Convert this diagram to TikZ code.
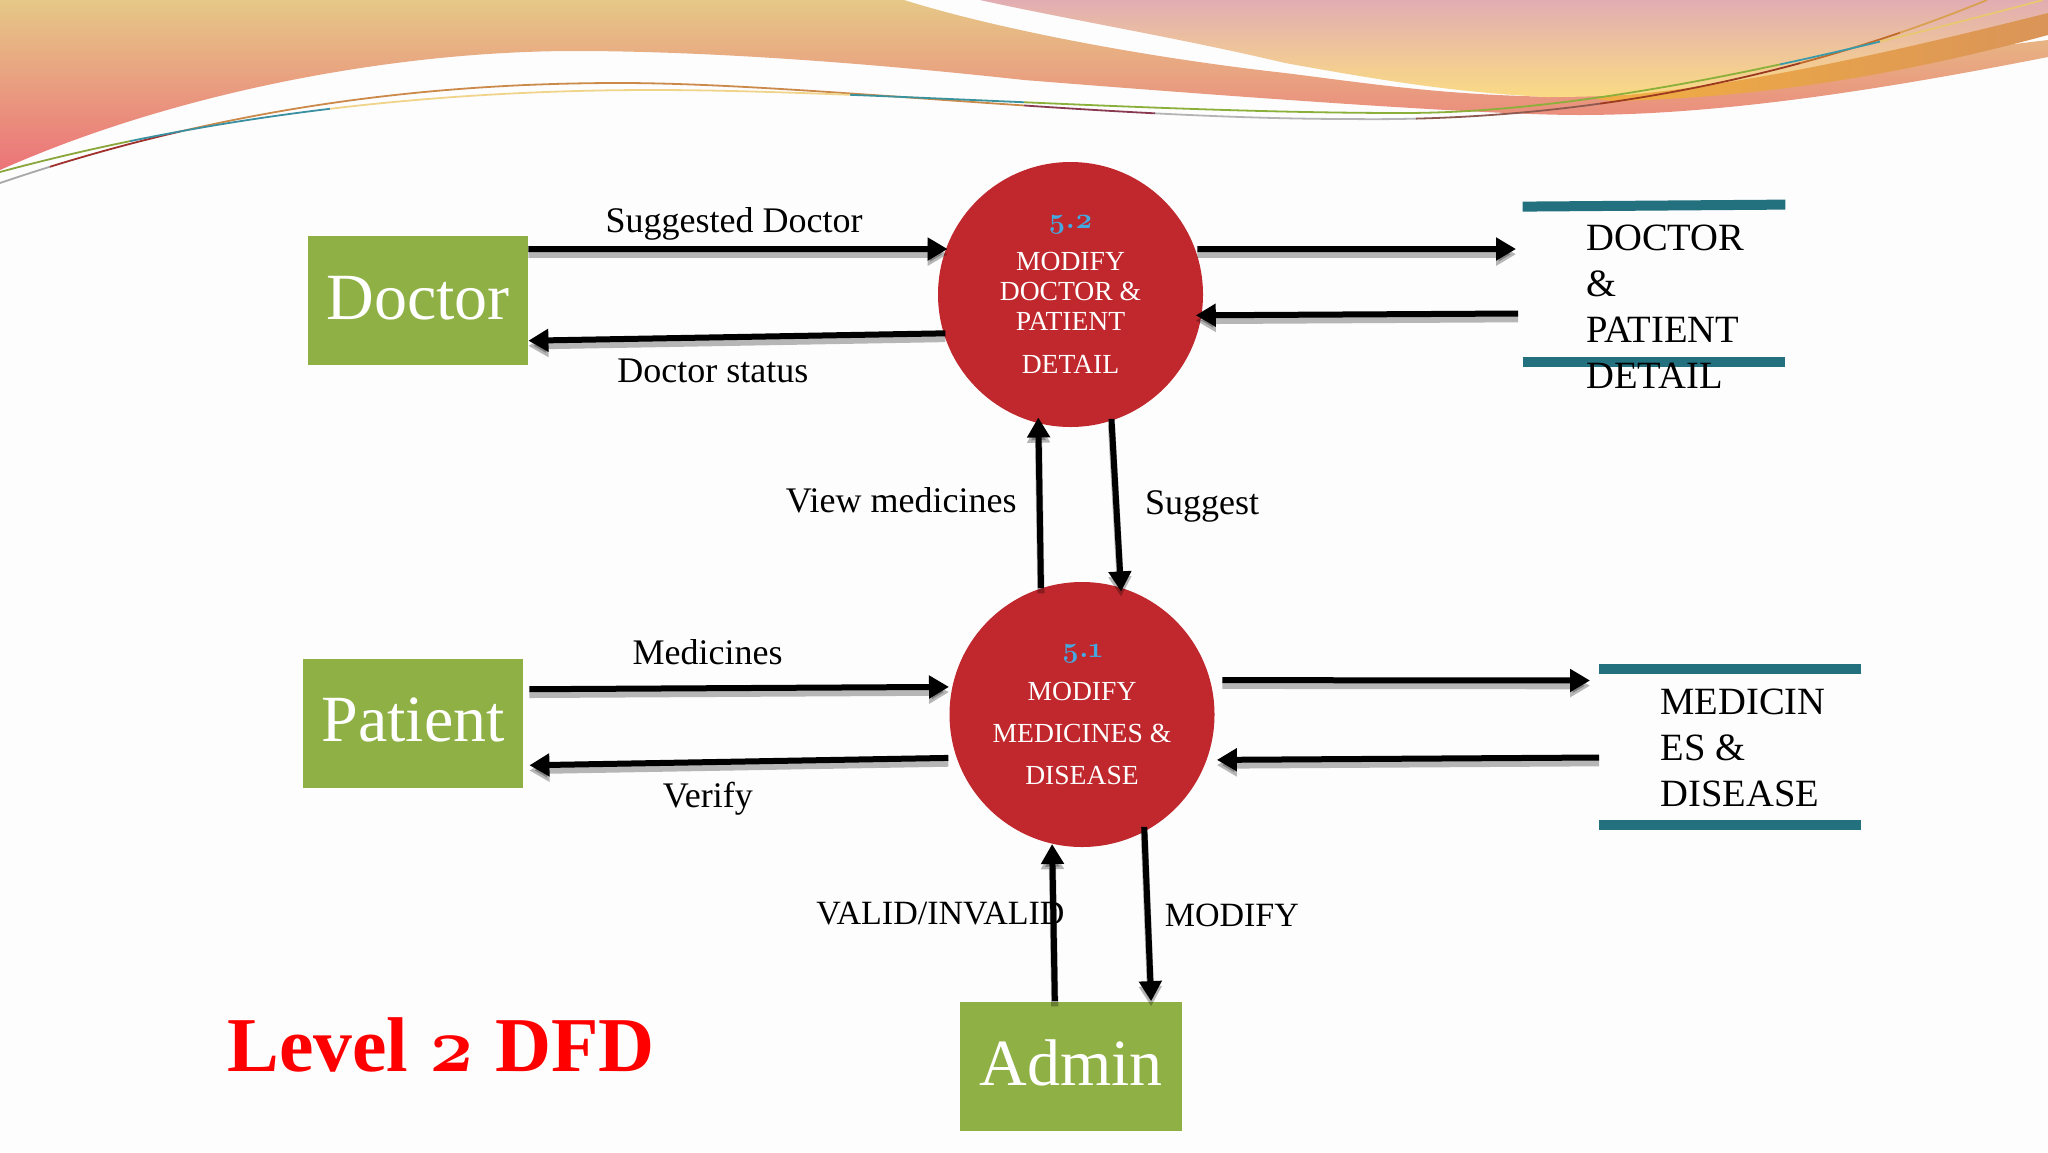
\documentclass[tikz,border=0pt]{standalone}
\usepackage{fontspec}
\setmainfont{Liberation Serif}
\newfontfamily\oldnum[Numbers=OldStyle]{Latin Modern Roman}
\usetikzlibrary{calc}
\usetikzlibrary{shapes,arrows.meta,positioning}
\definecolor{boxgreen}{HTML}{8FB044}
\definecolor{procred}{HTML}{C0282D}
\definecolor{storeteal}{HTML}{23707F}
\definecolor{numblue}{HTML}{45A8E0}
\definecolor{paper}{HTML}{FDFDFE}
\definecolor{bandtop}{HTML}{E6C887}
\definecolor{bandmid}{HTML}{E3A27E}
\definecolor{bandlow}{HTML}{EC7378}
\definecolor{skytop}{HTML}{E2ADB2}
\definecolor{skylow}{HTML}{FADB84}
\definecolor{wedgeleft}{HTML}{F2AE42}
\definecolor{wedgeright}{HTML}{DA9458}
\tikzstyle{entity} = [rectangle, fill=boxgreen, text=white, minimum width=110pt, minimum height=64.5pt,
    inner sep=0pt, text depth=3pt, font=\fontsize{33}{36}\selectfont]
\tikzstyle{process} = [circle, fill=procred, text=white, minimum size=132.5pt, inner sep=0pt,
    align=center, font=\fontsize{13.8}{15}\selectfont]
\tikzstyle{store} = [rectangle, minimum width=131pt, minimum height=78pt, inner sep=0pt]
\tikzstyle{storetext} = [anchor=west, align=left, inner sep=0pt, font=\fontsize{19.3}{23}\selectfont]
\tikzstyle{bar} = [draw=storeteal, line width=5pt]
\tikzstyle{line} = [draw, line width=3pt, -{Triangle[length=10pt,width=11pt]},
    preaction={draw=black, opacity=.28, line width=3.6pt, transform canvas={yshift=-2.6pt}}]
\tikzstyle{lab} = [inner sep=0pt, font=\fontsize{18}{20}\selectfont]
\tikzstyle{labcap} = [inner sep=0pt, font=\fontsize{17}{20}\selectfont]
\newcommand{\curveA}{(-20,189) -- (0,183) .. controls (200,115) and (400,83) .. (620,83) .. controls (800,83) and (1100,119) .. (1350,119) .. controls (1560,122) and (1780,85) .. (1987,0)}
\newcommand{\curveB}{(0,172) .. controls (200,118) and (420,90) .. (653,90) .. controls (850,90) and (1150,113) .. (1403,113) .. controls (1580,113) and (1800,65) .. (2043,0)}
\begin{document}
\begin{tikzpicture}[x=0.5pt,y=-0.5pt]
\useasboundingbox (0,0) rectangle (2048,1152);
\fill[paper] (0,0) rectangle (2048,1152);
%Banner:
\shade[top color=bandtop, middle color=bandmid, bottom color=bandlow] (0,0) -- (904,0) .. controls (1000,30) and (1150,58) .. (1285,73)
  .. controls (1380,85) and (1450,96) .. (1570,97) -- (2048,40) -- (2048,57) .. controls (1880,90) and (1720,115) .. (1579,115)
  .. controls (1500,115) and (1300,102) .. (1024,80) .. controls (860,62) and (700,51) .. (575,51) .. controls (400,51) and (180,90) .. (0,170) -- cycle;
\shade[top color=skytop, bottom color=skylow] (980,0) -- (2048,0) -- (2048,13) .. controls (1880,70) and (1720,97) .. (1546,97)
  .. controls (1450,92) and (1380,80) .. (1285,63) .. controls (1180,38) and (1060,18) .. (980,0) -- cycle;
\shade[left color=wedgeleft, right color=wedgeright] (1590,98) .. controls (1740,88) and (1900,50) .. (2048,13) -- (2048,35) .. controls (1900,75) and (1760,98) .. (1612,101) -- cycle;
\foreach \xa/\xb/\c in {0/50/A8A8A8,50/180/A0302C,180/1024/CC8A4A,1024/1155/8A3A50,1155/1416/B4B4B4,1416/1600/8E5A50,1600/1800/9B3A20,1800/1900/C06A2A,1900/2048/D8A050}{
  \definecolor{seg}{HTML}{\c}
  \begin{scope}
  \clip (\xa,0) rectangle (\xb,300);
  \draw[seg, line width=.9pt] \curveA;
  \end{scope}}
\foreach \xa/\xb/\c in {0/130/8AA63A,130/330/3A8FA0,330/850/F0D48A,850/1024/3A929C,1024/1780/8AB03A,1780/1880/3A9AAA,1880/2048/E8C870}{
  \definecolor{seg}{HTML}{\c}
  \begin{scope}
  \clip (\xa,0) rectangle (\xb,300);
  \draw[seg, line width=.9pt] \curveB;
  \end{scope}}
%Entities:
\node[entity] (E_doctor) at (418,300.5) {Doctor};
\node[entity] (E_patient) at (413,723) {Patient};
\node[entity, minimum width=111pt] (E_admin) at (1071,1066) {Admin};
%Processes:
\node[process] (P_52) at (1070.5,294.5) {\fontsize{14.5}{15}\selectfont\color{numblue}\raisebox{-1.3pt}{\oldnum\bfseries 5.2}\\[7.6pt]MODIFY\\DOCTOR \&\\PATIENT\\[6.5pt]DETAIL};
\node[process] (P_51) at (1082,714.5) {\fontsize{14.5}{15}\selectfont\color{numblue}\raisebox{-2pt}{\oldnum\bfseries 5.1}\\[8.4pt]MODIFY\\[6pt]MEDICINES \&\\[6pt]DISEASE};
%Stores:
\node[store] (S_doctor) at (1654,284) {};
\draw[bar] ([yshift=-.5pt]S_doctor.north west) -- ([yshift=.5pt]S_doctor.north east);
\draw[bar] (S_doctor.south west) -- (S_doctor.south east);
\node[store] (S_medicine) at (1730,747) {};
\draw[bar] (S_medicine.north west) -- (S_medicine.north east);
\draw[bar] (S_medicine.south west) -- (S_medicine.south east);
\node[storetext] (S_doctor_t) at (1586,307) {DOCTOR\\\&\\PATIENT\\DETAIL};
\node[storetext] (S_medicine_t) at (1660,747.5) {MEDICIN\\ES \&\\DISEASE};
\coordinate (aux_S_doctor_in) at (1516,249);
\coordinate (aux_S_doctor_out) at (1518,313.5);
\coordinate (aux_S_medicine_in) at (1590,680.5);
\coordinate (aux_S_medicine_out) at (1599,757.5);
%Flows:
\path(E_doctor.25)edge[line,shorten >=-1pt] node[lab,above=2.8pt,xshift=-1.5pt](F_suggested){Suggested Doctor}(P_52.160);
\path(P_52.197)edge[line,shorten <=-1pt] node[lab,below=9.4pt,xshift=-11.5pt](F_status){Doctor status}(E_doctor.-20);
\path(P_52.20)edge[line,shorten <=1pt](aux_S_doctor_in);
\path(aux_S_doctor_out)edge[line,shorten >=-3pt](P_52.-9);
\path(P_51.108.6)edge[line,shorten >=-3pt] node[lab,left=10pt,yshift=2.9pt](F_view){View medicines}(P_52.256);
\path(P_52.-72)edge[line,shorten <=-1pt,shorten >=-2pt] node[lab,right=13pt,yshift=-1pt](F_suggest){Suggest}(P_51.73.9);
\path(E_patient.17.7)edge[line,shorten <=3pt,shorten >=1.5pt] node[lab,above=10pt,xshift=-15pt](F_medicines){Medicines}(P_51.168.5);
\path(P_51.199.3)edge[line,shorten <=4pt,shorten >=3pt] node[lab,below=8.9pt,xshift=-16pt](F_verify){Verify}(E_patient.-21.8);
\path(P_51.15)edge[line,shorten <=6pt](aux_S_medicine_in);
\path(aux_S_medicine_out)edge[line,shorten >=5pt](P_51.-20);
\path(E_admin.104)edge[line] node[labcap,left=-7pt,yshift=4.3pt](F_valid){VALID/INVALID}(P_51.257);
\path(P_51.-62)edge[line,shorten <=-2.5pt] node[labcap,right=7pt,yshift=.4pt](F_modify){MODIFY}(E_admin.39.4);
%Title:
\node[text=red, inner sep=0pt, font=\fontsize{38.8}{44}\selectfont\bfseries] (T_level) at (441,1045) {Level {\oldnum 2} DFD};
\end{tikzpicture}
\end{document}
